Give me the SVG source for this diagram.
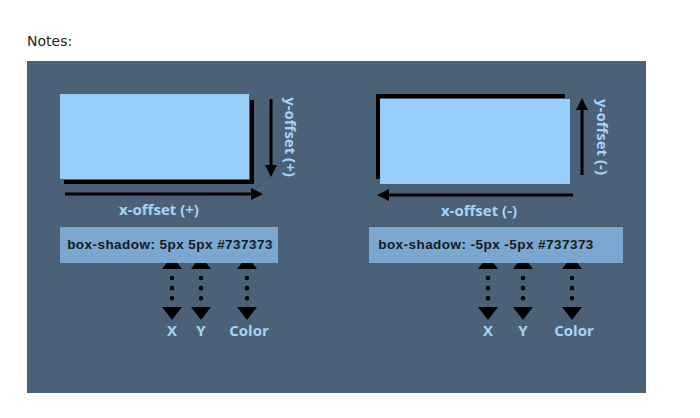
<svg xmlns="http://www.w3.org/2000/svg" width="700" height="418" viewBox="0 0 700 418">
<defs>
<style>
.lbl{font-family:"Open Sans","Liberation Sans",sans-serif;font-weight:bold;font-size:15px;fill:#a6d3f6;text-anchor:middle}
.code{font-family:"Liberation Sans","DejaVu Sans",sans-serif;font-weight:bold;font-size:13.5px;letter-spacing:0.45px;fill:#141a22;text-anchor:middle}
.sh{stroke:#000;stroke-width:4;fill:none}
.ar{stroke:#000;stroke-width:3;fill:none}
.dot{stroke:#000;stroke-width:4.5;stroke-dasharray:0.1 10;stroke-linecap:round;fill:none}
.hd{fill:#000}
</style>
</defs>
<rect width="700" height="418" fill="#fff"/>
<text x="27" y="46" font-family="DejaVu Sans, sans-serif" font-size="14" fill="#222">Notes:</text>
<rect x="27" y="61" width="619" height="332" fill="#4b6177"/>

<g id="left-box">
<path class="sh" d="M64 182 H252 V100"/>
<rect x="60" y="94" width="189" height="85" fill="#97cffa"/>
</g>
<g id="right-box">
<path class="sh" d="M378 179 V96 H565"/>
<rect x="380" y="99" width="190" height="85" fill="#97cffa"/>
</g>

<g id="connectors">
<path class="ar" d="M271 99 V166"/>
<path class="hd" d="M265 165 H277 L271 177 Z"/>
<path class="ar" d="M65 194 H252"/>
<path class="hd" d="M251 188 L263 194 L251 200 Z"/>
<path class="ar" d="M582 175 V109"/>
<path class="hd" d="M576 110 H588 L582 98 Z"/>
<path class="ar" d="M573 195 H388"/>
<path class="hd" d="M389 189 L377 195 L389 201 Z"/>

<g id="left-ptr">
<path class="hd" d="M162 269 L172 256 L182 269 Z M191 269 L201 256 L211 269 Z M237 269 L247 256 L257 269 Z"/>
<path class="dot" d="M172 278 V299 M201 278 V299 M247 278 V299"/>
<path class="hd" d="M162 307 L172 320 L182 307 Z M191 307 L201 320 L211 307 Z M237 307 L247 320 L257 307 Z"/>
</g>
<g id="right-ptr">
<path class="hd" d="M478 269 L488 256 L498 269 Z M513 269 L523 256 L533 269 Z M562 269 L572 256 L582 269 Z"/>
<path class="dot" d="M488 278 V299 M523 278 V299 M572 278 V299"/>
<path class="hd" d="M478 307 L488 320 L498 307 Z M513 307 L523 320 L533 307 Z M562 307 L572 320 L582 307 Z"/>
</g>
</g>

<g id="labels-left">
<text class="lbl" x="159" y="215">x-offset (+)</text>
<text class="lbl" transform="translate(285 137) rotate(90)">y-offset (+)</text>
</g>
<g id="labels-right">
<text class="lbl" x="479" y="216">x-offset (-)</text>
<text class="lbl" transform="translate(597 137) rotate(90)">y-offset (-)</text>
</g>

<g id="code-left">
<rect x="60" y="227" width="218" height="36" fill="#7aa6cf"/>
<text class="code" x="170" y="249">box-shadow: 5px 5px #737373</text>
</g>
<g id="code-right">
<rect x="369" y="227" width="254" height="36" fill="#7aa6cf"/>
<text class="code" x="486" y="249">box-shadow: -5px -5px #737373</text>
</g>

<g id="axis-labels">
<text class="lbl" x="172" y="336">X</text>
<text class="lbl" x="201" y="336">Y</text>
<text class="lbl" x="249" y="336">Color</text>
<text class="lbl" x="488" y="336">X</text>
<text class="lbl" x="523" y="336">Y</text>
<text class="lbl" x="574" y="336">Color</text>
</g>
</svg>
